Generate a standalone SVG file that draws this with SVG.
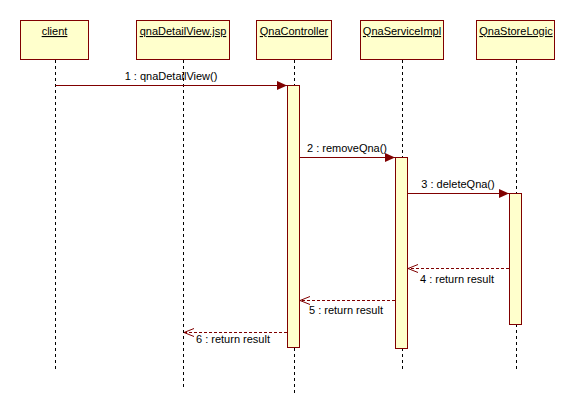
<svg xmlns="http://www.w3.org/2000/svg" width="575" height="414" viewBox="0 0 575 414">
<style>
text{font-family:"Liberation Sans",Arial,sans-serif;font-size:11px;fill:#000}
.box{fill:#FFFFCC;stroke:#800000;stroke-width:1}
.name{text-anchor:middle;text-decoration:underline}
.life{stroke:#000;stroke-width:1;stroke-dasharray:3,3;fill:none}
.act{fill:#FFFFCC;stroke:#800000;stroke-width:1}
.call{stroke:#800000;stroke-width:1;fill:none;marker-end:url(#filled)}
.ret{stroke:#800000;stroke-width:1;stroke-dasharray:3,2;fill:none;marker-end:url(#open)}
.mid{text-anchor:middle}
</style>
<defs>
<marker id="filled" markerWidth="11" markerHeight="9" refX="10" refY="4.5" orient="auto" markerUnits="userSpaceOnUse">
<path d="M0,0 L10,4.5 L0,9 Z" fill="#800000"/>
</marker>
<marker id="open" markerWidth="12" markerHeight="10" refX="10" refY="5" orient="auto" markerUnits="userSpaceOnUse">
<path d="M0,1 L10,5 L0,9" fill="none" stroke="#800000" stroke-width="1"/>
</marker>
</defs>
<rect width="575" height="414" fill="#fff"/>
<g id="client">
<rect class="box" x="20.5" y="20.5" width="68" height="39"/>
<text class="name" x="54.5" y="35">client</text>
<line class="life" x1="55.5" y1="60" x2="55.5" y2="369"/>
</g>
<g id="qnaDetailView">
<rect class="box" x="136.5" y="20.5" width="93" height="39"/>
<text class="name" x="183" y="35">qnaDetailView.jsp</text>
<line class="life" x1="183.5" y1="60" x2="183.5" y2="388"/>
</g>
<g id="QnaController">
<rect class="box" x="256.5" y="20.5" width="75" height="39"/>
<text class="name" x="294" y="35">QnaController</text>
<line class="life" x1="294.5" y1="60" x2="294.5" y2="394"/>
<rect class="act" x="287.5" y="85.5" width="12" height="262"/>
</g>
<g id="QnaServiceImpl">
<rect class="box" x="360.5" y="20.5" width="83" height="39"/>
<text class="name" x="402" y="35">QnaServiceImpl</text>
<line class="life" x1="402.5" y1="60" x2="402.5" y2="369"/>
<rect class="act" x="395.5" y="157.5" width="12" height="191"/>
</g>
<g id="QnaStoreLogic">
<rect class="box" x="476.5" y="20.5" width="78" height="39"/>
<text class="name" x="516" y="35">QnaStoreLogic</text>
<line class="life" x1="516.5" y1="60" x2="516.5" y2="369"/>
<rect class="act" x="509.5" y="193.5" width="12" height="131"/>
</g>
<g id="connectors">
<line class="call" x1="55.5" y1="85.5" x2="287" y2="85.5"/>
<text class="mid" x="171" y="80">1 : qnaDetailView()</text>
<line class="call" x1="299.5" y1="157.5" x2="395" y2="157.5"/>
<text class="mid" x="347" y="152">2 : removeQna()</text>
<line class="call" x1="407.5" y1="193.5" x2="509" y2="193.5"/>
<text class="mid" x="458" y="188">3 : deleteQna()</text>
<line class="ret" x1="509" y1="268.5" x2="408" y2="268.5"/>
<text x="420" y="283">4 : return result</text>
<line class="ret" x1="395" y1="300.5" x2="300" y2="300.5"/>
<text x="309" y="314">5 : return result</text>
<line class="ret" x1="287" y1="332.5" x2="184" y2="332.5"/>
<text x="196" y="343">6 : return result</text>
</g>
</svg>
